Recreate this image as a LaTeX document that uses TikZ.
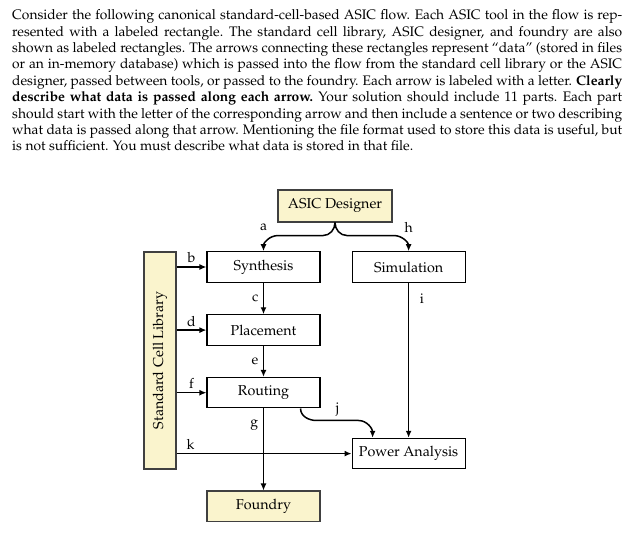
\documentclass[tikz,border=0pt]{standalone}
\usepackage[T1]{fontenc}
\usepackage{mathpazo}
\usetikzlibrary{arrows.meta,positioning}
\definecolor{libyellow}{RGB}{250,244,205}

\begin{document}
\begin{tikzpicture}[x=1pt, y=1pt, auto, >={Latex[length=7pt,width=6pt]}]
		\tikzstyle{tool}=[rectangle, draw=black, line width=1.1pt, minimum width=113pt, minimum height=30.5pt, inner sep=0pt, font=\fontsize{14.3}{17}\selectfont]
		\tikzstyle{ext}=[tool, fill=libyellow, draw=black!75]
		\tikzstyle{connect}=[->, line width=1.5pt]
		\tikzstyle{lbl}=[inner sep=3.3pt, font=\fontsize{14}{16}\selectfont]
		\tikzstyle{side}=[lbl, inner sep=4.5pt]
		\useasboundingbox (0,0) rectangle (632,551);
		% problem statement
		\node[anchor=north west, inner sep=0pt, text width=610pt, align=justify, font=\fontsize{13.8}{16.4}\selectfont] (task) at (12,541.5) {\hyphenpenalty=10000\exhyphenpenalty=10000\tolerance=10000\spaceskip=.25em plus .2em minus .11em\xspaceskip=.3em plus .2em minus .11em%
			Consider the following canonical standard-cell-based ASIC flow. Each ASIC tool in the flow is rep-\linebreak
			resented with a labeled rectangle. The standard cell library, ASIC designer, and foundry are also\linebreak
			shown as labeled rectangles. The arrows connecting these rectangles represent ``data'' (stored in files\linebreak
			or an in-memory database) which is passed into the flow from the standard cell library or the ASIC\linebreak
			designer, passed between tools, or passed to the foundry. Each arrow is labeled with a letter. \textbf{Clearly\linebreak
			describe what data is passed along each arrow.} Your solution should include 11 parts. Each part\linebreak
			should start with the letter of the corresponding arrow and then include a sentence or two describing\linebreak
			what data is passed along that arrow. Mentioning the file format used to store this data is useful, but\linebreak
			is not sufficient. You must describe what data is stored in that file.};
		% flow
		\node[tool] (synth) at (263.5,284) {Synthesis};
		\node[tool] (place) [below=31.5pt of synth] {Placement};
		\node[tool] (route) [below=31pt of place] {Routing};
		\node[ext] (foundry) [below=82pt of route] {Foundry};
		\node[tool] (sim) [right=31pt of synth] {Simulation};
		\node[tool] (power) [below=155pt of sim] {Power Analysis};
		\node[ext, minimum width=114pt, minimum height=32pt] (designer) at (335,345) {ASIC Designer};
		\node[ext, rotate=90, minimum width=217pt, minimum height=32pt] (lib) at (160,190.5) {Standard Cell Library};
		%\node[lbl] (a) [above left=of synth] {a};
		\draw[connect] (designer.south) to[out=-90,in=0] ++(-12,-13) -- ++(-45,0) to[out=180,in=90] (synth.north);
		\draw[connect] (designer.south) to[out=-90,in=180] ++(12,-13) -- ++(47,0) to[out=0,in=90] (sim.north);
		\node[lbl] at ([yshift=24pt]synth.north) {a};
		\node[lbl] at ([yshift=24pt]sim.north) {h};
		\draw[connect] ([xshift=-20pt]route.south east) to[out=-90,in=180] ++(16,-12) -- ++(42,0) node[lbl, midway, above] {j} to[out=0,in=90] ([xshift=-36pt]power.north);
		\path
		(lib.south |- synth.west) edge [connect] node[lbl, above] {b} (synth.west)
		(lib.south |- place.west) edge [connect] node[lbl, above] {d} (place.west)
		(lib.south |- route.west) edge [connect] node[lbl, above] {f} (route.west)
		(lib.south |- power.west) edge [connect] node[lbl, above, pos=0.08] {k} (power.west)
		(synth) edge [connect] node[side, left] {c} (place)
		(place) edge [connect] node[side, left] {e} (route)
		(route) edge [connect] node[side, left, pos=0.2] {g} (foundry)
		(sim) edge [connect] node[side, right, pos=0.1, xshift=6pt] {i} (power)
		;
	\end{tikzpicture}
\end{document}
